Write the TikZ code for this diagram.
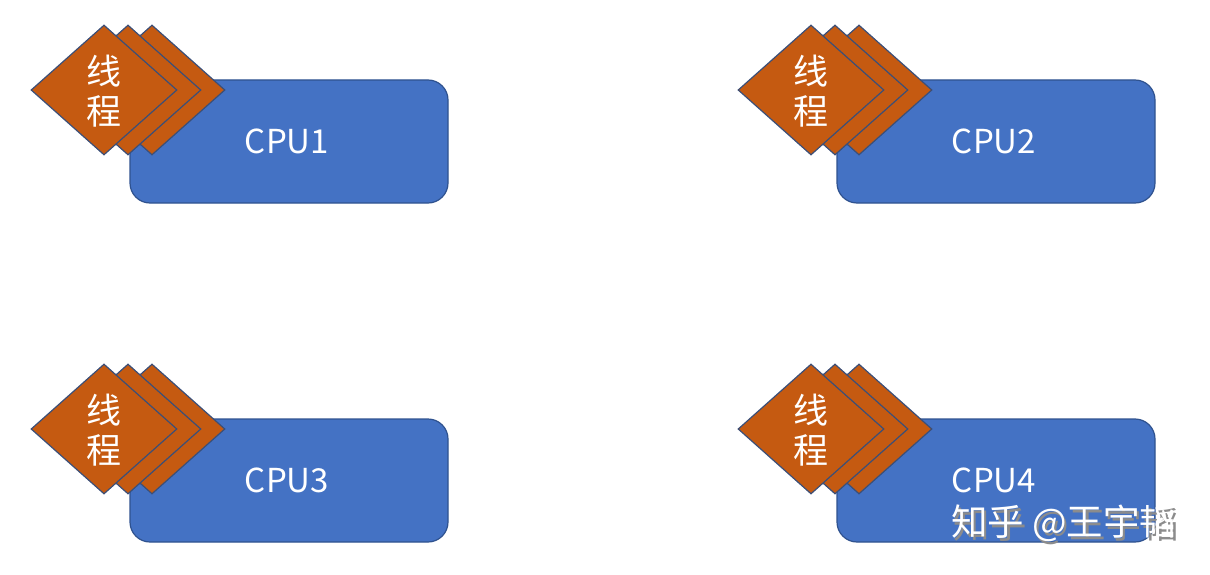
\documentclass[tikz,border=0pt]{standalone}
\usepackage{fontspec}
\setmainfont{Noto Sans CJK SC}
\usetikzlibrary{shapes.geometric}
\definecolor{cpublue}{HTML}{4472C4}
\definecolor{cpuedge}{HTML}{2F528F}
\definecolor{thorange}{HTML}{C55A11}
\definecolor{thedge}{HTML}{3B4F78}
\tikzset{
  cpubox/.style={draw=cpuedge, line width=1.2pt, fill=cpublue, rounded corners=20pt,
    minimum width=318pt, minimum height=123pt, inner sep=0pt},
  thdiamond/.style={diamond, draw=thedge, line width=1.2pt, fill=thorange,
    minimum width=146pt, minimum height=130pt, inner sep=0pt, aspect=1.12},
  cputext/.style={text=white, font=\fontsize{33}{36}\selectfont, inner sep=0pt},
  thtext/.style={text=white, font=\fontsize{35}{40}\selectfont, inner sep=0pt},
  wmark/.style={font=\fontsize{36.5}{40}\selectfont, inner sep=0pt, anchor=west}
}
\newcommand{\cpugroup}[4]{%
  \node[cpubox] (box#3) at (#1+289, #2+141.5) {};
  \node[thdiamond] (dc#3) at (#1+152, #2+90) {};
  \node[thdiamond] (db#3) at (#1+128, #2+90) {};
  \node[thdiamond] (da#3) at (#1+104, #2+90) {};
  \node[thtext] (tx#3) at (#1+104, #2+71) {线};
  \node[thtext] (ty#3) at (#1+104, #2+111) {程};
  \node[cputext] (cp#3) at (#1+287, #2+141) {#4};
}
\newcommand{\wmtext}{知乎 @王宇韬}
\begin{document}
\begin{tikzpicture}[x=1pt, y=-1pt]
\useasboundingbox (0,0) rectangle (1210,575);
\cpugroup{0}{0}{1}{CPU1}
\cpugroup{707}{0}{2}{CPU2}
\cpugroup{0}{339}{3}{CPU3}
\cpugroup{707}{339}{4}{CPU4}
\node[wmark] (wm) at (951, 525) {\rlap{\hspace{2.5pt}\raisebox{-2.5pt}{\color{black!45}\wmtext}}\color{white}\wmtext};
\end{tikzpicture}
\end{document}
